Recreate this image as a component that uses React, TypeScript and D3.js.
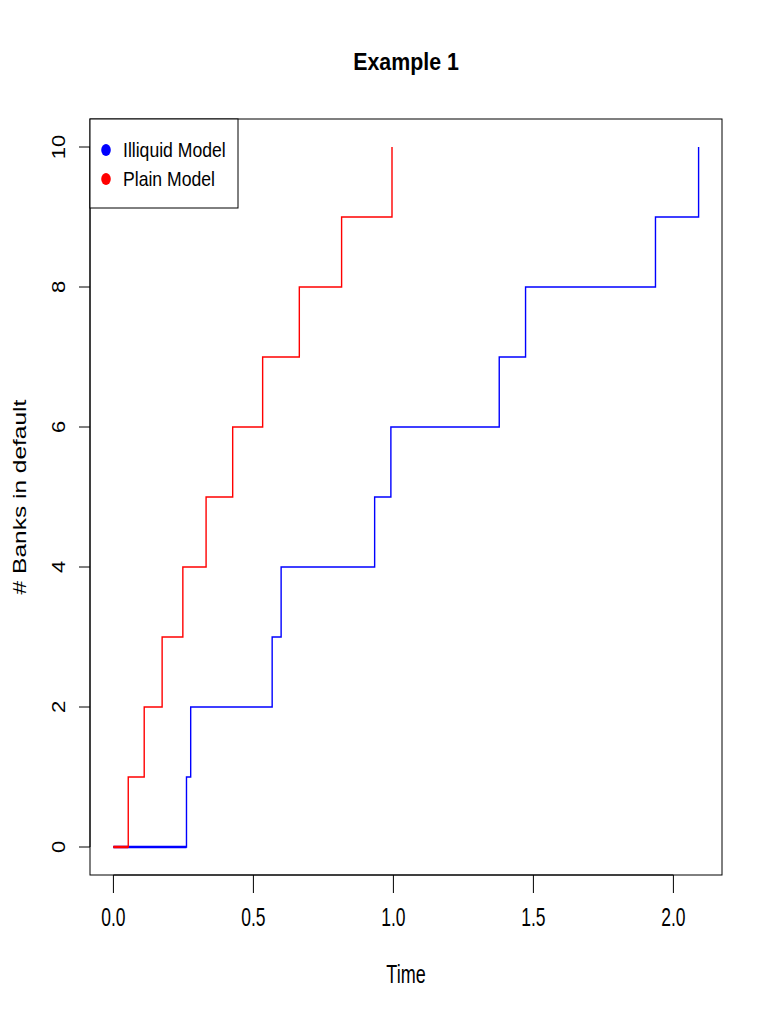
import React, { useEffect, useRef } from 'react';
import * as d3 from 'd3';

// default times (one entry per bank)
const illiquidTimes = [0, 0.261, 0.276, 0.567, 0.599, 0.933, 0.991, 1.378, 1.472, 1.936, 2.09];
const plainTimes = [0, 0.053, 0.11, 0.174, 0.248, 0.331, 0.426, 0.533, 0.664, 0.815, 0.995];
const xTicks = [0, 0.5, 1, 1.5, 2];
const yTicks = [0, 2, 4, 6, 8, 10];
const seriesNames = ['Illiquid Model', 'Plain Model'];
const seriesColors = ['#0000ff', '#ff0000'];

const W = 768;
const H = 1024;
const box = { left: 90, right: 722, top: 119, bottom: 875 };
const FONT = '"Liberation Sans", Arial, Helvetica, sans-serif';

const App: React.FC = () => {
  const svgRef = useRef<SVGSVGElement>(null);

  useEffect(() => {
    if (!svgRef.current) return;
    const svg = d3.select(svgRef.current);
    svg.selectAll('*').remove();

    const series = [illiquidTimes, plainTimes].map(ts => ts.map((t, i) => [t, i] as [number, number]));

    // R style 4% range extension
    const xMax = d3.max(series.flat(), d => d[0]) as number;
    const yMax = d3.max(series.flat(), d => d[1]) as number;
    const xPad = xMax * 0.04;
    const yPad = yMax * 0.04;

    const x = d3.scaleLinear().domain([-xPad, xMax + xPad]).range([box.left, box.right]);
    const y = d3.scaleLinear().domain([-yPad, yMax + yPad]).range([box.bottom, box.top]);

    const line = d3.line<[number, number]>()
      .x(d => x(d[0]))
      .y(d => y(d[1]))
      .curve(d3.curveStepAfter);

    // lines
    series.forEach((s, i) => {
      svg.append('path')
        .attr('d', line(s))
        .attr('fill', 'none')
        .attr('stroke', seriesColors[i])
        .attr('stroke-width', 1.4);
      // first (zero) segment looks heavier in the original
      svg.append('line')
        .attr('x1', x(s[0][0]))
        .attr('x2', x(s[1][0]))
        .attr('y1', y(0))
        .attr('y2', y(0))
        .attr('stroke', seriesColors[i])
        .attr('stroke-width', 2.6);
    });

    // box
    svg.append('rect')
      .attr('x', box.left)
      .attr('y', box.top)
      .attr('width', box.right - box.left)
      .attr('height', box.bottom - box.top)
      .attr('fill', 'none')
      .attr('stroke', '#000')
      .attr('stroke-width', 1);

    // x axis
    const gx = svg.append('g');
    gx.append('line')
      .attr('x1', x(xTicks[0])).attr('x2', x(xTicks[xTicks.length - 1]))
      .attr('y1', box.bottom).attr('y2', box.bottom)
      .attr('stroke', '#000');
    gx.selectAll('line.tick')
      .data(xTicks)
      .enter()
      .append('line')
      .attr('class', 'tick')
      .attr('x1', d => x(d)).attr('x2', d => x(d))
      .attr('y1', box.bottom).attr('y2', box.bottom + 18)
      .attr('stroke', '#000');
    gx.selectAll('text')
      .data(xTicks)
      .enter()
      .append('text')
      .attr('transform', d => `translate(${x(d)},926) scale(0.7,1)`)
      .attr('text-anchor', 'middle')
      .attr('font-size', 25)
      .attr('font-family', FONT)
      .text(d => d3.format('.1f')(d));

    // y axis
    const gy = svg.append('g');
    gy.append('line')
      .attr('x1', box.left).attr('x2', box.left)
      .attr('y1', y(yTicks[0])).attr('y2', y(yTicks[yTicks.length - 1]))
      .attr('stroke', '#000');
    gy.selectAll('line.tick')
      .data(yTicks)
      .enter()
      .append('line')
      .attr('class', 'tick')
      .attr('x1', box.left - 11).attr('x2', box.left)
      .attr('y1', d => y(d)).attr('y2', d => y(d))
      .attr('stroke', '#000');
    gy.selectAll('text')
      .data(yTicks)
      .enter()
      .append('text')
      .attr('transform', d => `translate(65,${y(d)}) scale(0.8,1) rotate(-90)`)
      .attr('text-anchor', 'middle')
      .attr('font-size', 22)
      .attr('font-family', FONT)
      .text(d => String(d));

    // titles
    svg.append('text')
      .attr('transform', `translate(${(box.left + box.right) / 2},70) scale(0.89,1)`)
      .attr('text-anchor', 'middle')
      .attr('font-size', 24)
      .attr('font-weight', 'bold')
      .attr('font-family', FONT)
      .text('Example 1');

    svg.append('text')
      .attr('transform', `translate(${(box.left + box.right) / 2},983) scale(0.72,1)`)
      .attr('text-anchor', 'middle')
      .attr('font-size', 25)
      .attr('font-family', FONT)
      .text('Time');

    svg.append('text')
      .attr('transform', `translate(26,${(box.top + box.bottom) / 2}) scale(0.78,1) rotate(-90)`)
      .attr('text-anchor', 'middle')
      .attr('font-size', 24.5)
      .attr('font-family', FONT)
      .text('# Banks in default');

    // legend
    const lg = svg.append('g');
    lg.append('rect')
      .attr('x', box.left)
      .attr('y', box.top)
      .attr('width', 148)
      .attr('height', 89)
      .attr('fill', '#fff')
      .attr('stroke', '#000');
    seriesNames.forEach((name, i) => {
      const cy = 150 + i * 29;
      lg.append('ellipse')
        .attr('cx', 106)
        .attr('cy', cy)
        .attr('rx', 4.8)
        .attr('ry', 6)
        .attr('fill', seriesColors[i]);
      lg.append('text')
        .attr('transform', `translate(123,${cy + 6.5}) scale(0.88,1)`)
        .attr('font-size', 20)
        .attr('font-family', FONT)
        .text(name);
    });
  }, []);

  return (
    <svg
      ref={svgRef}
      width={W}
      height={H}
      style={{ position: 'absolute', left: 0, top: 0, background: '#fff' }}
    />
  );
};

export default App;
